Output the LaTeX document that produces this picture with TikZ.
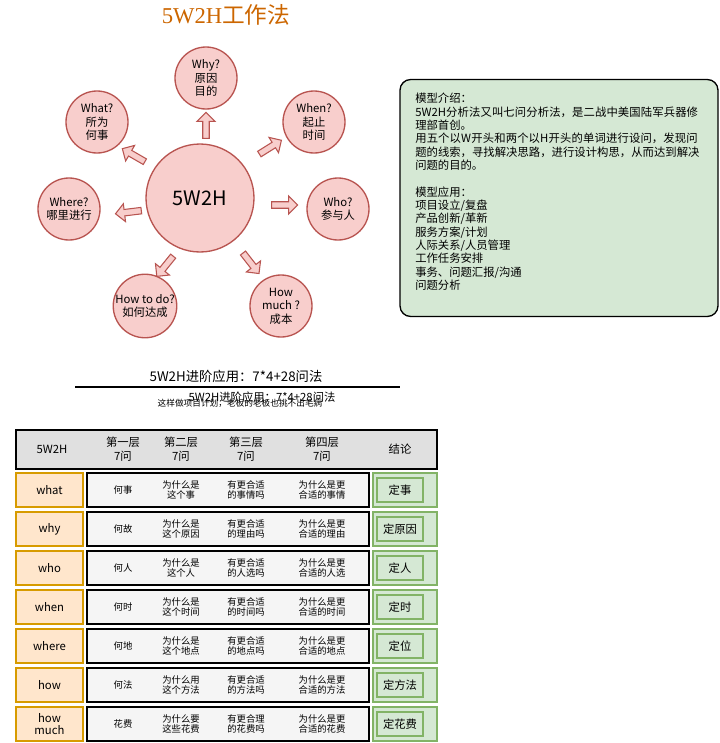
\documentclass[tikz,border=0pt]{standalone}
\usepackage{fontspec}
\setmainfont{Noto Sans CJK SC}
\newfontfamily\serifl{Liberation Serif}
\XeTeXlinebreaklocale "zh"
\XeTeXlinebreakskip=0pt plus 1pt
\usetikzlibrary{shapes.arrows}
\definecolor{cfill}{HTML}{F8CECC}
\definecolor{cdraw}{HTML}{B85450}
\definecolor{gfill}{HTML}{D5E8D4}
\definecolor{gdraw}{HTML}{82B366}
\definecolor{ofill}{HTML}{FFE6CC}
\definecolor{odraw}{HTML}{D79B00}
\definecolor{ttl}{HTML}{CC6600}
\tikzset{
 circ/.style={circle,draw=cdraw,fill=cfill,line width=1pt,minimum size=62*0.75pt,inner sep=0pt,align=center,font=\fontsize{8.5}{10}\selectfont},
 barrow/.style={single arrow,draw=cdraw,fill=cfill,line width=0.8pt,minimum height=26*0.75pt,minimum width=18*0.75pt,single arrow head extend=2.5pt,inner sep=1pt},
 lbox/.style={draw=odraw,fill=ofill,line width=1pt,minimum width=67*0.75pt,minimum height=34*0.75pt,font=\fontsize{8.5}{9.5}\selectfont,align=center},
 mbox/.style={draw=black,fill=black!4,line width=1.4pt,minimum width=282*0.75pt,minimum height=34*0.75pt},
 gout/.style={draw=gdraw,fill=gfill,line width=1pt,minimum width=64*0.75pt,minimum height=34*0.75pt},
 gin/.style={draw=gdraw,fill=gfill,line width=1pt,minimum width=46*0.75pt,minimum height=24*0.75pt,font=\fontsize{8.5}{10}\selectfont},
 cell/.style={font=\fontsize{7}{8}\selectfont,align=center},
 hcell/.style={font=\fontsize{8.5}{10}\selectfont,align=center}
}
\begin{document}
\begin{tikzpicture}[x=0.75pt,y=-0.75pt]
\useasboundingbox (0,0) rectangle (720,743);
\node[text=ttl,font=\fontsize{17}{20}\selectfont] (title) at (226,15) {{\serifl 5W2H}工作法};
\node[circ,minimum size=108*0.75pt,font=\fontsize{15}{18}\selectfont] (c) at (200,198) {5W2H};
\node[circ] (why) at (206,78) {Why?\\原因\\目的};
\node[circ] (what) at (97,122) {What?\\所为\\何事};
\node[circ] (when) at (314,122) {When?\\起止\\时间};
\node[circ] (where) at (69,209) {Where?\\哪里进行};
\node[circ] (who) at (338,209) {Who?\\参与人};
\node[circ] (howdo) at (145,306) {How to do?\\如何达成};
\node[circ] (howm) at (281,306) {How\\much ?\\成本};
\node[barrow,rotate=90] (a1) at (206,127) {};
\node[barrow,rotate=32] (a2) at (269,148) {};
\node[barrow,rotate=0] (a3) at (283,205) {};
\node[barrow,rotate=-52] (a4) at (250,262) {};
\node[barrow,rotate=-129] (a5) at (166,265) {};
\node[barrow,rotate=187] (a6) at (130,212) {};
\node[barrow,rotate=150] (a7) at (135,156) {};
\node[draw=black,fill=gfill,rounded corners=8pt,line width=1pt,minimum width=318*0.75pt,minimum height=237*0.75pt] (g) at (559,198) {};
\node[anchor=north west,align=left,text width=285*0.75pt,font=\fontsize{8.5}{10}\selectfont,inner sep=0pt] (gt) at (415,93) {模型介绍：\\5W2H分析法又叫七问分析法，是二战中美国陆军兵器修理部首创。\\用五个以W开头和两个以H开头的单词进行设问，发现问题的线索，寻找解决思路，进行设计构思，从而达到解决问题的目的。\\[10pt]模型应用：\\项目设立/复盘\\产品创新/革新\\服务方案/计划\\人际关系/人员管理\\工作任务安排\\事务、问题汇报/沟通\\问题分析};
\node[font=\fontsize{10}{12}\selectfont] (sub) at (236,376) {5W2H进阶应用：7*4+28问法};
\coordinate (l1) at (75,387); \coordinate (l2) at (400,387);
\draw[line width=1pt] (l1) -- (l2);
\node[font=\fontsize{6.5}{8}\selectfont] (s2) at (240,403) {这样做项目计划，老板的老板也挑不出毛病};
\node[font=\fontsize{8.5}{10}\selectfont] (s1) at (262,397) {5W2H进阶应用：7*4+28问法};
\node[draw=black,fill=black!12,line width=1.4pt,minimum width=421*0.75pt,minimum height=39*0.75pt] (hd) at (226.5,449.5) {};
\node[hcell] (h0) at (52,449) {5W2H};
\node[hcell] (h1) at (123,449) {第一层\\7问};
\node[hcell] (h2) at (181,449) {第二层\\7问};
\node[hcell] (h3) at (246,449) {第三层\\7问};
\node[hcell] (h4) at (322,449) {第四层\\7问};
\node[hcell] (h5) at (400,449) {结论};
\foreach \y/\k/\a/\b/\c/\d/\e/\n in {
 490/what/何事/为什么是\\这个事/有更合适\\的事情吗/为什么是更\\合适的事情/定事/r1,
 529/why/何故/为什么是\\这个原因/有更合适\\的理由吗/为什么是更\\合适的理由/定原因/r2,
 568/who/何人/为什么是\\这个人/有更合适\\的人选吗/为什么是更\\合适的人选/定人/r3,
 607/when/何时/为什么是\\这个时间/有更合适\\的时间吗/为什么是更\\合适的时间/定时/r4,
 646/where/何地/为什么是\\这个地点/有更合适\\的地点吗/为什么是更\\合适的地点/定位/r5,
 685/how/何法/为什么用\\这个方法/有更合适\\的方法吗/为什么是更\\合适的方法/定方法/r6,
 724/{how\\much}/花费/为什么要\\这些花费/有更合理\\的花费吗/为什么是更\\合适的花费/定花费/r7}{
 \node[lbox] (\n l) at (49.5,\y) {\k};
 \node[mbox] (\n m) at (228,\y) {};
 \node[cell] (\n a) at (123,\y) {\a};
 \node[cell] (\n b) at (181,\y) {\b};
 \node[cell] (\n c) at (246,\y) {\c};
 \node[cell] (\n d) at (322,\y) {\d};
 \node[gout] (\n g) at (405,\y) {};
 \node[gin] (\n h) at (400,\y) {\e};
}
\end{tikzpicture}
\end{document}
